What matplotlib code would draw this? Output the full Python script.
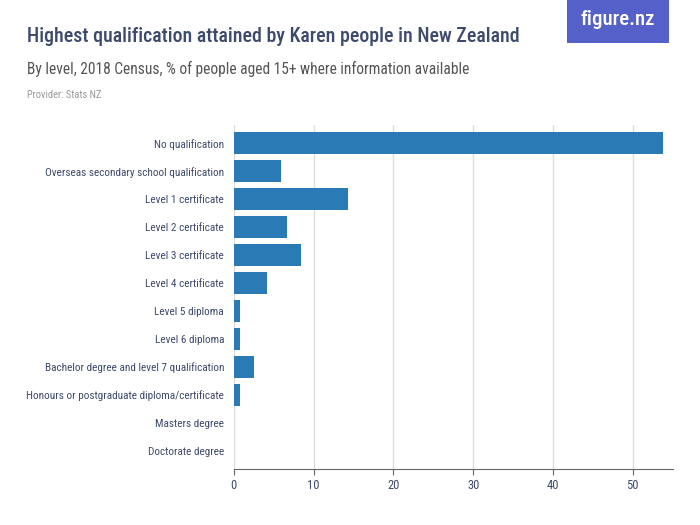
import matplotlib.pyplot as plt
from matplotlib.patches import Rectangle

# Data
categories = [
    'No qualification',
    'Overseas secondary school qualification',
    'Level 1 certificate',
    'Level 2 certificate',
    'Level 3 certificate',
    'Level 4 certificate',
    'Level 5 diploma',
    'Level 6 diploma',
    'Bachelor degree and level 7 qualification',
    'Honours or postgraduate diploma/certificate',
    'Masters degree',
    'Doctorate degree',
]
values = [53.8, 5.9, 14.3, 6.7, 8.4, 4.2, 0.8, 0.8, 2.5, 0.8, 0.0, 0.0]
x_ticks = [0, 10, 20, 30, 40, 50]

title = 'Highest qualification attained by Karen people in New Zealand'
subtitle = 'By level, 2018 Census, % of people aged 15+ where information available'
provider = 'Provider: Stats NZ'

plt.rcParams['font.family'] = ['Roboto Condensed', 'DejaVu Sans']

fig = plt.figure(figsize=(7, 5.25), dpi=100)
ax = fig.add_axes([0.334, 0.107, 0.627, 0.655])

ax.barh(range(len(categories)), values, height=0.77, color='#2a7ab5', zorder=3)
ax.set_yticks(range(len(categories)))
ax.set_yticklabels(categories, fontsize=8.1, color='#3d4a6b')
ax.set_ylim(len(categories) - 0.35, -0.65)
ax.set_xlim(0, 55)
ax.set_xticks(x_ticks)
ax.set_xticklabels([str(t) for t in x_ticks], fontsize=9, color='#3d4a6b')
ax.xaxis.grid(True, color='#dddddd', linewidth=1, zorder=0)
ax.tick_params(axis='y', length=0, pad=7)
ax.tick_params(axis='x', length=4, color='#666666')
for s in ['top', 'right', 'left']:
    ax.spines[s].set_visible(False)
ax.spines['bottom'].set_color('#666666')

fig.text(0.039, 0.931, title, fontsize=14.3, color='#3d4a6b', va='center', weight='medium')
fig.text(0.039, 0.868, subtitle, fontsize=11.2, color='#555555', va='center')
fig.text(0.039, 0.82, provider, fontsize=7.5, color='#999999', va='center')

# figure.nz logo block
fig.patches.append(Rectangle((0.81, 0.918), 0.145, 0.082, transform=fig.transFigure,
                             facecolor='#5560c8', edgecolor='none'))
fig.text(0.8825, 0.962, 'figure.nz', fontsize=15, color='white', ha='center', va='center',
         weight='medium')

fig.savefig('out.png', dpi=100)
